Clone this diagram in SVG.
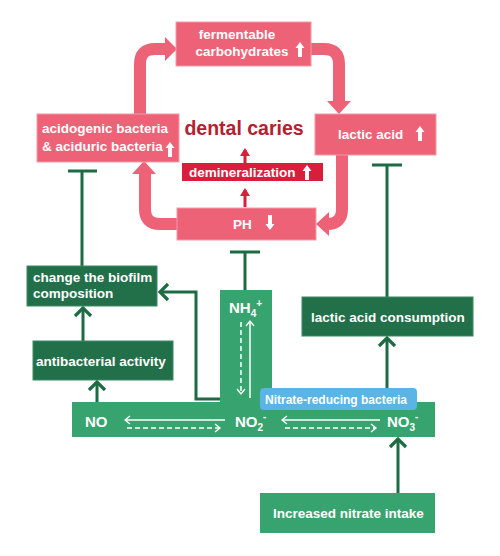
<svg xmlns="http://www.w3.org/2000/svg" width="500" height="556" viewBox="0 0 500 556">
<defs>
<style>
text{font-family:"Liberation Sans",Arial,sans-serif;font-weight:bold;fill:#fff}
.pbox{fill:#ee6277;stroke:#f39aa8;stroke-width:1}
.ploop{fill:none;stroke:#ee6277;stroke-width:12}
.phead{fill:#ee6277}
.dbox{fill:#21704a;stroke:#3b8a62;stroke-width:1}
.mbox{fill:#37a46f}
.gl{fill:none;stroke:#1d6b42;stroke-width:3}
.wl{fill:none;stroke:#fff;stroke-width:1.5}
.wd{fill:none;stroke:#fff;stroke-width:1.5;stroke-dasharray:5 3}
.t13{font-size:13.5px}
</style>
<marker id="ga" markerUnits="userSpaceOnUse" markerWidth="20" markerHeight="20" refX="10" refY="10" orient="auto">
<path d="M2,2 L10,10 L2,18" fill="none" stroke="#1d6b42" stroke-width="3.2"/>
</marker>
<marker id="wa" markerUnits="userSpaceOnUse" markerWidth="10" markerHeight="10" refX="6" refY="5" orient="auto">
<path d="M1,1 L6,5 L1,9" fill="none" stroke="#fff" stroke-width="1.3"/>
</marker>
<marker id="ra" markerUnits="userSpaceOnUse" markerWidth="12" markerHeight="12" refX="6" refY="6" orient="auto">
<path d="M0,1 L8,6 L0,11 Z" fill="#d81e3a"/>
</marker>
<path id="up" d="M-2,0 V-9 H-4.5 L0,-15 L4.5,-9 H2 V0 Z" fill="#fff"/>
</defs>

<g id="connectors">
<path class="ploop" d="M140 114 V64 Q140 49 155 49 H166"/>
<polygon class="phead" points="177,49 165,37 165,61"/>
<path class="ploop" d="M311 49 H324 Q339 49 339 64 V101"/>
<polygon class="phead" points="339,114 327,101 351,101"/>
<path class="ploop" d="M342 155 V209 Q342 224 327 224 H328"/>
<polygon class="phead" points="316,224 329,212 329,236"/>
<path class="ploop" d="M177 224 H160 Q145 224 145 209 V174"/>
<polygon class="phead" points="144,161 132,174 156,174"/>
<path d="M245 207 V190" stroke="#d81e3a" stroke-width="3" marker-end="url(#ra)"/>
<path d="M245 163 V150" stroke="#d81e3a" stroke-width="3" marker-end="url(#ra)"/>
<path class="gl" d="M82 266 V171 M68 171 H97"/>
<path class="gl" d="M245 290 V252 M230 252 H260"/>
<path class="gl" d="M387 297 V165 M372 165 H402"/>
<path class="gl" d="M83 341 V308" marker-end="url(#ga)"/>
<path class="gl" d="M97 402 V382" marker-end="url(#ga)"/>
<path class="gl" d="M220 399 H196 V292 H160" marker-end="url(#ga)"/>
<path class="gl" d="M387 388 V338" marker-end="url(#ga)"/>
<path class="gl" d="M398 493 V439" marker-end="url(#ga)"/>
</g>

<g id="fermentable">
<rect class="pbox" x="176" y="22" width="135" height="44"/>
<text class="t13" x="237" y="39" text-anchor="middle">fermentable</text>
<text class="t13" x="242" y="56" text-anchor="middle">carbohydrates</text>
<use href="#up" x="300" y="57"/>
</g>
<g id="acidogenic">
<rect class="pbox" x="37" y="114" width="142" height="48"/>
<text class="t13" x="42" y="133">acidogenic bacteria</text>
<text class="t13" x="42" y="151">&amp; aciduric bacteria</text>
<use href="#up" x="170" y="157"/>
</g>
<g id="lactic">
<rect class="pbox" x="315" y="114" width="121" height="41"/>
<text class="t13" x="338" y="139">lactic acid</text>
<use href="#up" x="420" y="141"/>
</g>
<g id="caries">
<text x="244" y="135" text-anchor="middle" style="font-size:19.5px;fill:#b52030">dental caries</text>
</g>
<g id="demineralization">
<rect x="182" y="163" width="141" height="18" fill="#d81e3a"/>
<text class="t13" x="189" y="177">demineralization</text>
<use href="#up" x="307" y="180"/>
</g>
<g id="ph">
<rect class="pbox" x="177" y="208" width="139" height="32"/>
<text class="t13" x="233" y="229">PH</text>
<path d="M268,215 V224 H265.5 L270,230 L274.5,224 H272 V215 Z" fill="#fff"/>
</g>

<g id="biofilm">
<rect class="dbox" x="27" y="266" width="130" height="40"/>
<text class="t13" x="33" y="282">change the biofilm</text>
<text class="t13" x="33" y="298">composition</text>
</g>
<g id="antibacterial">
<rect class="dbox" x="33" y="341" width="140" height="39"/>
<text class="t13" x="36" y="366">antibacterial activity</text>
</g>
<g id="consumption">
<rect class="dbox" x="302" y="297" width="171" height="39"/>
<text class="t13" x="311" y="322">lactic acid consumption</text>
</g>

<g id="nitrogen">
<rect class="mbox" x="220" y="290" width="52" height="114"/>
<rect class="mbox" x="72" y="402" width="363" height="35"/>
<text x="229" y="313" style="font-size:15px">NH<tspan dy="4" style="font-size:10px">4</tspan><tspan dy="-10" style="font-size:10px">+</tspan></text>
<path class="wd" d="M241 322 V394" marker-end="url(#wa)"/>
<path class="wl" d="M250 398 V321" marker-end="url(#wa)"/>
<text x="85" y="427" style="font-size:15px">NO</text>
<text x="235" y="427" style="font-size:15px">NO<tspan dy="4" style="font-size:10px">2</tspan><tspan dy="-11" style="font-size:10px">-</tspan></text>
<text x="387" y="427" style="font-size:15px">NO<tspan dy="4" style="font-size:10px">3</tspan><tspan dy="-11" style="font-size:10px">-</tspan></text>
<path class="wl" d="M225 420 H125" marker-end="url(#wa)"/>
<path class="wd" d="M127 428 H220" marker-end="url(#wa)"/>
<path class="wl" d="M380 420 H282" marker-end="url(#wa)"/>
<path class="wd" d="M285 428 H376" marker-end="url(#wa)"/>
</g>
<g id="nrb">
<rect x="260" y="388" width="157" height="22" rx="4" fill="#5ab4e6"/>
<text x="265" y="404" style="font-size:12px">Nitrate-reducing bacteria</text>
</g>
<g id="intake">
<rect class="mbox" x="260" y="493" width="175" height="40"/>
<text class="t13" x="273" y="518">Increased nitrate intake</text>
</g>
</svg>
